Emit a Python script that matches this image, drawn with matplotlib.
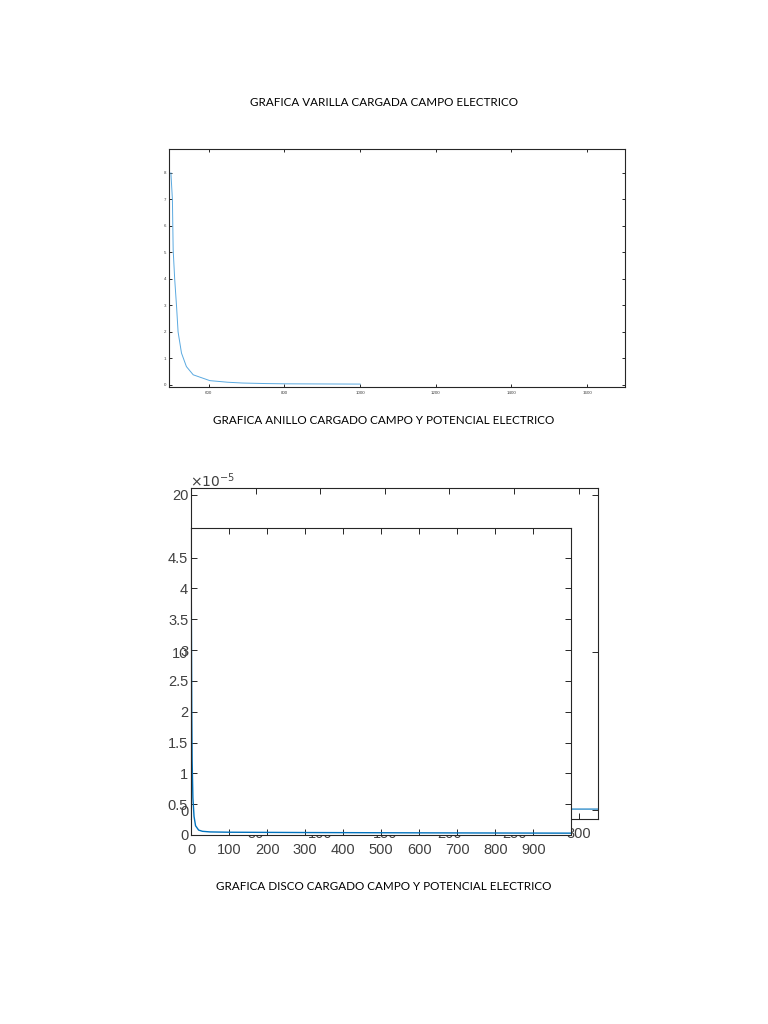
import matplotlib
matplotlib.use("Agg")
import matplotlib.pyplot as plt

# ---- data ----
varilla_x = [500, 504, 506, 510, 515, 519, 528, 541, 559, 603, 650, 689, 750, 804, 900, 1000]
varilla_e = [8.0, 7.0, 5.1, 4.0, 2.95, 2.0, 1.2, 0.69, 0.38, 0.16, 0.10, 0.07, 0.05, 0.04, 0.035, 0.03]
varilla_xticks = [600, 800, 1000, 1200, 1400, 1600]
varilla_yticks = [0, 1, 2, 3, 4, 5, 6, 7, 8]

# anillo: values in units of 1e-5
anillo_x = [0, 1, 2, 3, 5, 10, 20, 50, 100, 200, 315]
anillo_v = [20.4, 5.0, 1.5, 0.8, 0.4, 0.2, 0.12, 0.08, 0.07, 0.06, 0.06]
anillo_xticks = [50, 100, 150, 200, 250, 300]
anillo_yticks = [0, 10, 20]

anillo_x2 = [0, 1, 2, 3, 5, 8, 12, 20, 30, 50, 100, 300, 600, 999]
anillo_e = [4.98, 3.5, 2.0, 1.2, 0.6, 0.3, 0.15, 0.08, 0.06, 0.05, 0.045, 0.04, 0.035, 0.03]
anillo_xticks2 = [0, 100, 200, 300, 400, 500, 600, 700, 800, 900]
anillo_yticks2 = [0, 0.5, 1, 1.5, 2, 2.5, 3, 3.5, 4, 4.5]

titles = ["GRAFICA VARILLA CARGADA CAMPO ELECTRICO",
          "GRAFICA ANILLO CARGADO CAMPO Y POTENCIAL ELECTRICO",
          "GRAFICA DISCO CARGADO CAMPO Y POTENCIAL ELECTRICO"]

W, H = 768, 1024
LINE = "#0072BD"
AX = "#262626"
LBL = "#404040"

plt.rcParams["font.family"] = ["Liberation Sans", "DejaVu Sans"]
fig = plt.figure(figsize=(W / 100, H / 100), dpi=100, facecolor="white")


def box(left, top, right, bottom):
    return [left / W, 1 - bottom / H, (right - left) / W, (bottom - top) / H]


def matlab_style(ax, size, tlen, xpad=2):
    for s in ax.spines.values():
        s.set_color(AX)
        s.set_linewidth(0.8)
    ax.tick_params(direction="in", top=True, right=True, length=tlen, width=0.7,
                   color=AX, labelcolor=LBL, labelsize=size, pad=2)
    ax.tick_params(axis="x", pad=xpad)


# top plot
ax1 = fig.add_axes(box(169, 149, 625, 387))
ax1.plot(varilla_x, varilla_e, color="#5aa9e0", lw=0.7)
ax1.set_xlim(495, 1700)
ax1.set_ylim(-0.08, 8.9)
ax1.set_xticks(varilla_xticks)
ax1.set_yticks(varilla_yticks)
matlab_style(ax1, 3.2, 2.5, xpad=3)

# bottom: back axes
ax2 = fig.add_axes(box(191, 488, 598, 819))
ax2.plot(anillo_x, anillo_v, color=LINE, lw=0.8)
ax2.set_xlim(0, 315)
ax2.set_ylim(-0.57, 20.44)
ax2.set_xticks(anillo_xticks)
ax2.set_yticks(anillo_yticks)
matlab_style(ax2, 10.5, 4, xpad=5.5)
fig.text(190 / W, 1 - 481 / H, r"$\times10^{-5}$", fontsize=10,
         color=LBL, ha="left", va="center")

# bottom: front axes
ax3 = fig.add_axes(box(191, 528, 571, 835))
ax3.set_facecolor("white")
ax3.plot(anillo_x2, anillo_e, color=LINE, lw=1.0)
ax3.set_xlim(0, 999)
ax3.set_ylim(0, 4.98)
ax3.set_xticks(anillo_xticks2)
ax3.set_yticks(anillo_yticks2)
ax3.set_yticklabels([f"{v:g}" for v in anillo_yticks2])
matlab_style(ax3, 10.5, 4, xpad=5.5)

for t, y in zip(titles, [102, 421, 887]):
    fig.text(384 / W, 1 - y / H, t, ha="center", va="center", fontsize=8.4,
             family=["Lato", "DejaVu Sans"], color="black")

fig.savefig("out.png", dpi=100, facecolor="white")
